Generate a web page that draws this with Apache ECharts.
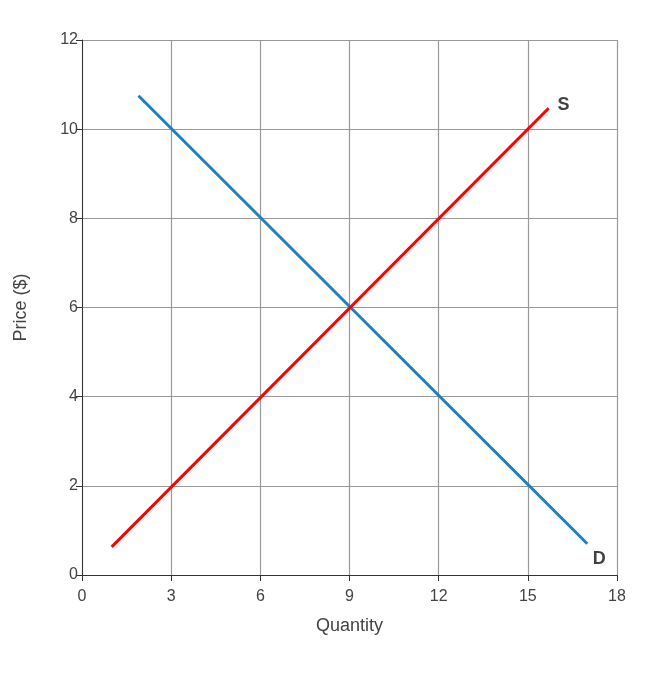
<!DOCTYPE html>
<html><head><meta charset="utf-8">
<script src="https://cdn.jsdelivr.net/npm/echarts@6/dist/echarts.min.js"></script>
<style>html,body{margin:0;padding:0;background:#fff}#c{width:652px;height:686px}</style>
</head><body><div id="c"></div>
<script>
const demand = [[1.9, 10.75], [17, 0.7]];
const supply = [[1, 0.63], [15.7, 10.47]];
const labelS = [[16.2, 10.55, 'S']];
const labelD = [[17.4, 0.35, 'D']];
const chart = echarts.init(document.getElementById('c'));
const font = 'Helvetica, Arial, "Liberation Sans", sans-serif';
chart.setOption({
  animation: false,
  grid: {left: 82, right: 35, top: 40, bottom: 111},
  xAxis: {type: 'value', min: 0, max: 18, interval: 3, name: 'Quantity', nameLocation: 'middle', nameGap: 42,
    nameTextStyle: {fontSize: 18, color: '#444', fontFamily: font},
    axisLine: {lineStyle: {color: '#333'}}, axisTick: {show: true, length: 6, lineStyle: {color: '#333'}},
    axisLabel: {fontSize: 16, color: '#444', fontFamily: font, margin: 14},
    splitLine: {lineStyle: {color: '#999', width: 1.2}}},
  yAxis: {type: 'value', min: 0, max: 12, interval: 2, name: 'Price ($)', nameLocation: 'middle', nameGap: 52,
    nameTextStyle: {fontSize: 18, color: '#444', fontFamily: font},
    axisLine: {show: true, lineStyle: {color: '#333'}}, axisTick: {show: true, length: 6, lineStyle: {color: '#333'}},
    axisLabel: {fontSize: 16, color: '#444', fontFamily: font, margin: 4},
    splitLine: {lineStyle: {color: '#999', width: 1.2}}},
  series: [
    {type: 'line', data: demand, symbol: 'none', lineStyle: {color: '#1f7fbf', width: 3}},
    {type: 'line', data: supply, symbol: 'none', lineStyle: {color: '#ff0000', width: 3}},
    {type: 'scatter', data: labelS.concat(labelD), symbolSize: 0,
      label: {show: true, formatter: p => p.data[2], fontSize: 18, fontWeight: 'bold', color: '#111', fontFamily: font}}
  ]
});
</script></body></html>
